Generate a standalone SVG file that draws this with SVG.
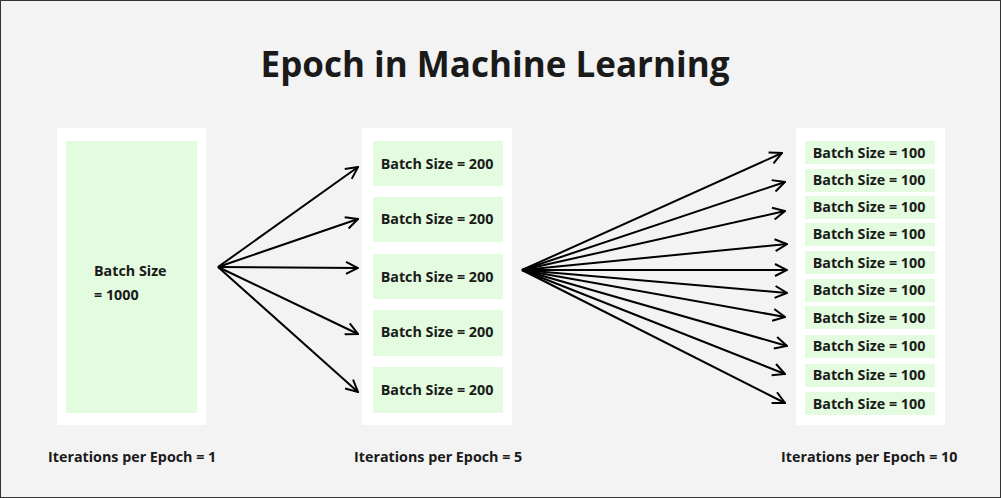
<svg xmlns="http://www.w3.org/2000/svg" width="1001" height="498" viewBox="0 0 1001 498">
<defs>
<marker id="ah" viewBox="0 0 14 14" refX="13" refY="7" markerWidth="14" markerHeight="14" markerUnits="userSpaceOnUse" orient="auto">
<path d="M1,1 L13,7 L1,13" fill="none" stroke="#000" stroke-width="2"/>
</marker>
<style>
.panel{fill:#fff}
.g{fill:#e3fbde}
.t{font-family:"Open Sans","Noto Sans",sans-serif;font-weight:bold;fill:#1a1a1a}
.s{font-size:14.3px}
.c line{stroke:#000;stroke-width:2;marker-end:url(#ah)}
</style>
</defs>
<rect width="1001" height="498" fill="#f3f3f3"/>
<rect x="0.5" y="0.5" width="1000" height="497" fill="none" stroke="#333" stroke-width="1"/>
<text class="t" x="495" y="77" font-size="35" text-anchor="middle">Epoch in Machine Learning</text>

<g id="left">
<rect class="panel" x="57" y="128" width="149" height="297"/>
<rect class="g" x="66" y="141" width="131" height="272"/>
<text class="t s" x="94" y="276">Batch Size</text>
<text class="t s" x="94" y="300">= 1000</text>
</g>

<g id="middle">
<rect class="panel" x="362" y="128" width="150" height="297"/>
<rect class="g" x="373" y="141" width="130" height="45"/>
<rect class="g" x="373" y="197" width="130" height="45"/>
<rect class="g" x="373" y="254" width="130" height="45"/>
<rect class="g" x="373" y="310" width="130" height="46"/>
<rect class="g" x="373" y="367" width="130" height="46"/>
<g class="t s" text-anchor="middle">
<text x="437" y="169">Batch Size = 200</text>
<text x="437" y="224">Batch Size = 200</text>
<text x="437" y="282">Batch Size = 200</text>
<text x="437" y="337">Batch Size = 200</text>
<text x="437" y="395">Batch Size = 200</text>
</g>
</g>

<g id="right">
<rect class="panel" x="796" y="128" width="149" height="297"/>
<g class="g">
<rect x="805" y="141" width="130" height="23"/>
<rect x="805" y="169" width="130" height="23"/>
<rect x="805" y="196" width="130" height="23"/>
<rect x="805" y="223" width="130" height="23"/>
<rect x="805" y="251" width="130" height="23"/>
<rect x="805" y="279" width="130" height="23"/>
<rect x="805" y="306" width="130" height="23"/>
<rect x="805" y="335" width="130" height="23"/>
<rect x="805" y="364" width="130" height="23"/>
<rect x="805" y="392" width="130" height="23"/>
</g>
<g class="t s" text-anchor="middle">
<text x="869" y="158">Batch Size = 100</text>
<text x="869" y="185">Batch Size = 100</text>
<text x="869" y="212">Batch Size = 100</text>
<text x="869" y="239">Batch Size = 100</text>
<text x="869" y="268">Batch Size = 100</text>
<text x="869" y="295">Batch Size = 100</text>
<text x="869" y="323">Batch Size = 100</text>
<text x="869" y="351">Batch Size = 100</text>
<text x="869" y="380">Batch Size = 100</text>
<text x="869" y="409">Batch Size = 100</text>
</g>
</g>

<g id="connectors" class="c">
<line x1="218" y1="267" x2="358" y2="167"/>
<line x1="218" y1="267" x2="358" y2="219"/>
<line x1="218" y1="267" x2="358" y2="268"/>
<line x1="218" y1="267" x2="358" y2="334"/>
<line x1="218" y1="267" x2="358" y2="392"/>
<line x1="522" y1="270" x2="782" y2="153"/>
<line x1="522" y1="270" x2="785" y2="182"/>
<line x1="522" y1="270" x2="785" y2="211"/>
<line x1="522" y1="270" x2="787" y2="244"/>
<line x1="522" y1="270" x2="787" y2="270"/>
<line x1="522" y1="270" x2="787" y2="293"/>
<line x1="522" y1="270" x2="785" y2="317"/>
<line x1="522" y1="270" x2="787" y2="346"/>
<line x1="522" y1="270" x2="785" y2="374"/>
<line x1="522" y1="270" x2="785" y2="403"/>
</g>

<g class="t s">
<text x="48" y="462">Iterations per Epoch = 1</text>
<text x="354" y="462">Iterations per Epoch = 5</text>
<text x="781" y="462">Iterations per Epoch = 10</text>
</g>
</svg>
